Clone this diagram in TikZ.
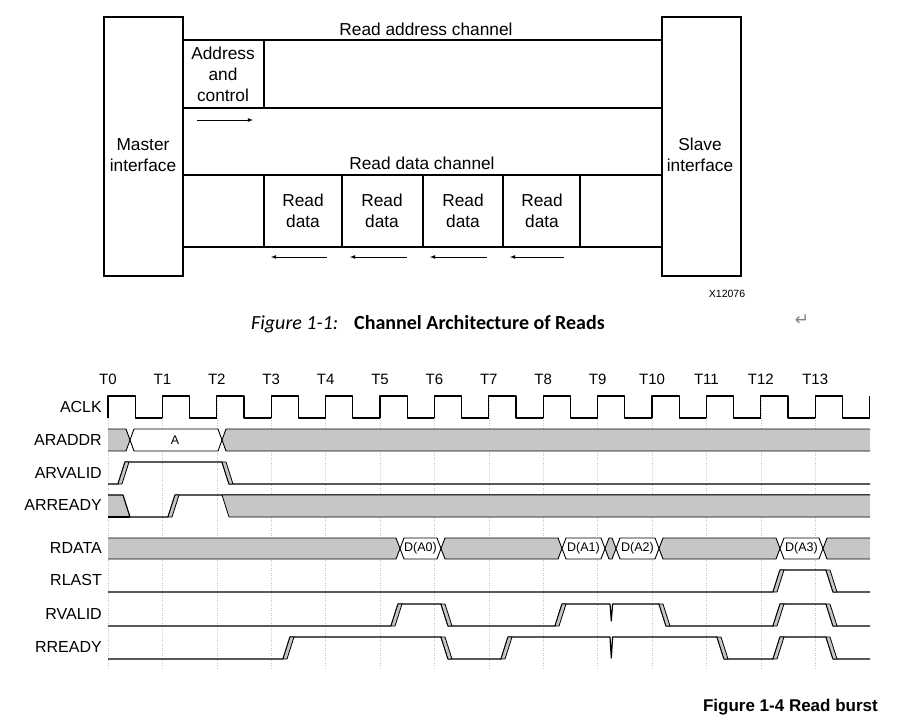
\documentclass[tikz,border=0pt]{standalone}
\usepackage{fontspec}
\setmainfont{Liberation Sans}
\newfontfamily\calfont{Carlito}
\newfontfamily\dvfont{DejaVu Sans}
\begin{document}
\begin{tikzpicture}[x=1pt,y=-1pt,
  box/.style={draw,line width=1.6pt},
  ch/.style={line width=1.6pt},
  lbl/.style={font=\fontsize{17.3}{21}\selectfont,align=center,inner sep=0},
  sig/.style={font=\fontsize{16}{18}\selectfont,anchor=east,inner sep=0},
  tl/.style={font=\fontsize{15}{17}\selectfont,inner sep=0},
  dl/.style={font=\fontsize{12.5}{14}\selectfont,inner sep=0},
  wv/.style={line width=1.2pt,line join=round},
  tr/.style={fill=gray!45,draw=black,line width=0.8pt,line join=round},
  bus/.style={fill=gray!45,draw=black,line width=0.9pt},
  wbus/.style={fill=white,draw=black,line width=0.9pt},
  grid/.style={gray!45,dotted,line width=0.5pt},
  arr/.style={-latex,line width=0.8pt}]
\useasboundingbox (0,0) rectangle (909,725);
% ---------- top figure ----------
\node[box,minimum width=79pt,minimum height=259pt,anchor=north west] (m) at (103,16) {};
\node[box,minimum width=79pt,minimum height=259pt,anchor=north west] (s) at (661,16) {};
\node[lbl] (mt) at (143,155) {Master\\interface};
\node[lbl] (st) at (700,155) {Slave\\interface};
\draw[ch] (183,40) -- (661,40);
\draw[ch] (183,108) -- (661,108);
\draw[ch] (264,40) -- (264,108);
\node[lbl] (rac) at (426,29) {Read address channel};
\node[lbl] (ac) at (223,74) {Address\\and\\control};
\coordinate (a1) at (197,120); \coordinate (a2) at (253,120);
\draw[arr] (a1) -- (a2);
\draw[ch] (183,175) -- (661,175);
\draw[ch] (183,247) -- (661,247);
\node[lbl] (rdc) at (422,163) {Read data channel};
\foreach \x in {264,342,423,503,580} \draw[ch] (\x,175) -- (\x,247);
\foreach \c/\n in {303/r1,382/r2,463/r3,542/r4} \node[lbl] (\n) at (\c,211) {Read\\data};
\foreach \a/\b in {327/271,407/350,487/430,564/510} \draw[arr] (\a,257) -- (\b,257);
\node[font=\fontsize{10.5}{12}\selectfont,inner sep=0] (x) at (727,294) {X12076};
\node[inner sep=0] (cap) at (428,324) {{\calfont\fontsize{20}{24}\selectfont\itshape Figure 1-1:}\hspace{16pt}{\calfont\fontsize{20}{24}\selectfont\bfseries Channel Architecture of Reads}};
\node[inner sep=0,text=gray] (ret) at (802,320) {\dvfont\fontsize{17}{20}\selectfont ↵};
% ---------- timing ----------
\foreach \n in {0,...,13} {
  \pgfmathsetmacro\xx{108+54.4*\n}
  \node[tl] (T\n) at (\xx,379) {T\n};
  \draw[grid] (\xx,395) -- (\xx,668);
}
\foreach \s/\y in {ACLK/407,ARADDR/440,ARVALID/473,ARREADY/505,RDATA/548,RLAST/580,RVALID/614,RREADY/647}
  \node[sig] (\s) at (102,\y) {\s};
% clock
\foreach \n in {0,...,13} {
  \pgfmathsetmacro\xa{108+54.4*\n}
  \pgfmathsetmacro\xb{\xa+27.2}
  \pgfmathsetmacro\xc{\xa+54.4}
  \draw[wv] (\xa,418) -- (\xa,396) -- (\xb,396) -- (\xb,418) -- (\xc,418);
}
\draw[wv] (869.6,418) -- (869.6,396);
% ARADDR
\draw[bus] (108,429) -- (126,429) -- (130,440) -- (126,451) -- (108,451);
\draw[wbus] (130,440) -- (134,429) -- (218,429) -- (222,440) -- (218,451) -- (134,451) -- cycle;
\draw[bus] (870,429) -- (226,429) -- (222,440) -- (226,451) -- (870,451);
\node[dl] (A) at (175,440) {A};
% ARVALID
\draw[wv] (108,484) -- (118,484) -- (125,462) -- (222,462) -- (229,484) -- (870,484);
\draw[tr] (118,484) -- (125,462) -- (129,462) -- (122,484) -- cycle;
\draw[tr] (222,462) -- (229,484) -- (233,484) -- (226,462) -- cycle;
% ARREADY
\fill[gray!45] (108,495) -- (123,495) -- (130,517) -- (108,517) -- cycle;
\draw[wv] (108,495) -- (123,495) -- (130,517) -- (168,517) -- (175,495) -- (870,495);
\draw[wv] (108,517) -- (130,517);
\draw[tr] (168,517) -- (175,495) -- (179,495) -- (172,517) -- cycle;
\draw[tr] (870,495) -- (222,495) -- (229,517) -- (870,517);
% RDATA
\draw[bus] (108,538) -- (396,538) -- (400,548.5) -- (396,559) -- (108,559);
\draw[wbus] (400,548.5) -- (404,538) -- (437,538) -- (441,548.5) -- (437,559) -- (404,559) -- cycle;
\draw[bus] (441,548.5) -- (445,538) -- (558,538) -- (562,548.5) -- (558,559) -- (445,559) -- cycle;
\draw[wbus] (562,548.5) -- (566,538) -- (601,538) -- (605,548.5) -- (601,559) -- (566,559) -- cycle;
\draw[bus] (605,548.5) -- (609,538) -- (612,538) -- (616,548.5) -- (612,559) -- (609,559) -- cycle;
\draw[wbus] (616,548.5) -- (620,538) -- (655,538) -- (659,548.5) -- (655,559) -- (620,559) -- cycle;
\draw[bus] (659,548.5) -- (663,538) -- (776,538) -- (780,548.5) -- (776,559) -- (663,559) -- cycle;
\draw[wbus] (780,548.5) -- (784,538) -- (819,538) -- (823,548.5) -- (819,559) -- (784,559) -- cycle;
\draw[bus] (870,538) -- (827,538) -- (823,548.5) -- (827,559) -- (870,559);
\node[dl] (d0) at (420.5,548.5) {D(A0)};
\node[dl] (d1) at (583.5,548.5) {D(A1)};
\node[dl] (d2) at (637.5,548.5) {D(A2)};
\node[dl] (d3) at (801.5,548.5) {D(A3)};
% RLAST
\draw[wv] (108,592) -- (773,592) -- (780,570) -- (826,570) -- (833,592) -- (870,592);
\draw[tr] (773,592) -- (780,570) -- (784,570) -- (777,592) -- cycle;
\draw[tr] (826,570) -- (833,592) -- (837,592) -- (830,570) -- cycle;
% RVALID
\draw[wv] (108,626) -- (391,626) -- (398,604) -- (441,604) -- (448,626) -- (555,626) -- (562,604)
  -- (610,604) -- (611.3,621) -- (612.6,604) -- (659,604) -- (666,626) -- (773,626) -- (780,604) -- (826,604) -- (833,626) -- (870,626);
\draw[tr] (391,626) -- (398,604) -- (402,604) -- (395,626) -- cycle;
\draw[tr] (441,604) -- (448,626) -- (452,626) -- (445,604) -- cycle;
\draw[tr] (555,626) -- (562,604) -- (566,604) -- (559,626) -- cycle;
\draw[tr] (659,604) -- (666,626) -- (670,626) -- (663,604) -- cycle;
\draw[tr] (773,626) -- (780,604) -- (784,604) -- (777,626) -- cycle;
\draw[tr] (826,604) -- (833,626) -- (837,626) -- (830,604) -- cycle;
% RREADY
\draw[wv] (108,659) -- (283,659) -- (290,637) -- (441,637) -- (448,659) -- (501,659) -- (508,637)
  -- (610,637) -- (611.3,658) -- (612.6,637) -- (717,637) -- (724,659) -- (773,659) -- (780,637) -- (826,637) -- (833,659) -- (870,659);
\draw[tr] (283,659) -- (290,637) -- (294,637) -- (287,659) -- cycle;
\draw[tr] (441,637) -- (448,659) -- (452,659) -- (445,637) -- cycle;
\draw[tr] (501,659) -- (508,637) -- (512,637) -- (505,659) -- cycle;
\draw[tr] (717,637) -- (724,659) -- (728,659) -- (721,637) -- cycle;
\draw[tr] (773,659) -- (780,637) -- (784,637) -- (777,659) -- cycle;
\draw[tr] (826,637) -- (833,659) -- (837,659) -- (830,637) -- cycle;
\node[font=\fontsize{17}{20}\selectfont\bfseries,anchor=east,inner sep=0] (f4) at (878,707) {Figure 1-4 Read burst};
\end{tikzpicture}
\end{document}
